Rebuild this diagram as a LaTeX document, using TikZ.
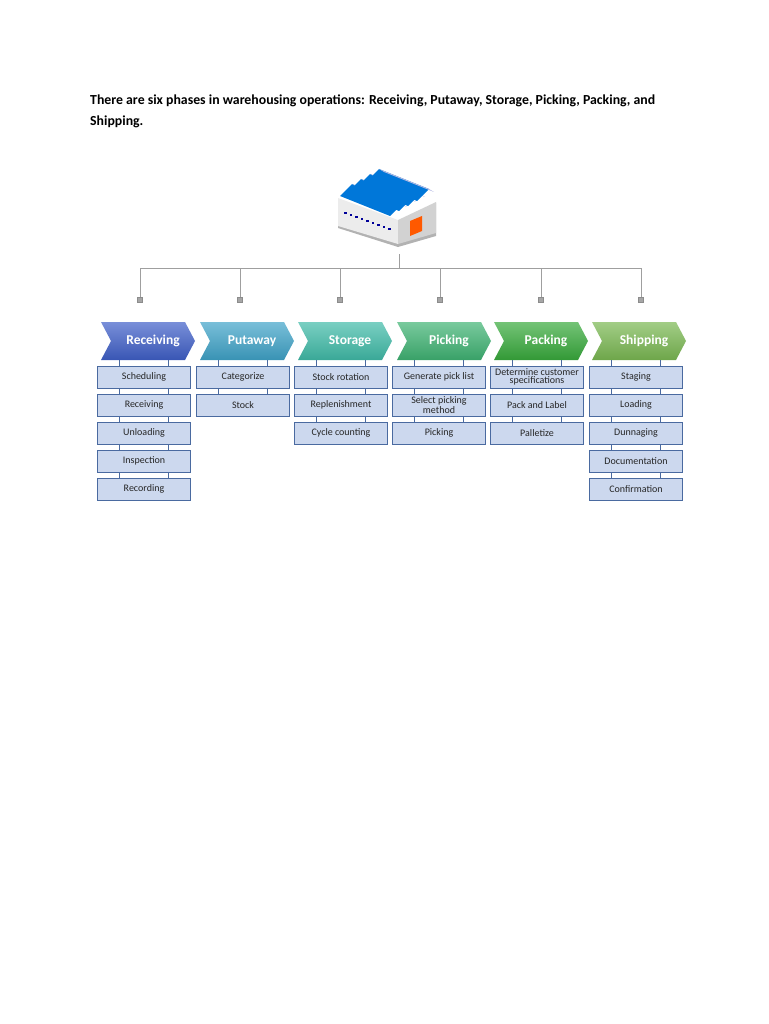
\documentclass[tikz,border=0pt]{standalone}
\usepackage{fontspec}
\setmainfont{Carlito}
\usetikzlibrary{shadings}
\begin{document}
\begin{tikzpicture}[x=1pt,y=-1pt,
  box/.style={draw=boxb,fill=boxf,line width=0.8pt,minimum width=93pt,minimum height=22pt,inner sep=1pt,font=\fontsize{10}{8.5}\selectfont,align=center,text=black!85},
  link/.style={draw=boxb,line width=0.7pt},
  tree/.style={draw=gray!75,line width=0.8pt},
  sq/.style={fill=gray!70,draw=gray!90,minimum size=5pt,inner sep=0pt},
  chevtxt/.style={font=\bfseries\fontsize{13.5}{14}\selectfont,text=white}]
\definecolor{boxf}{HTML}{CCD8EE}
\definecolor{boxb}{HTML}{4A6AA0}
\useasboundingbox (0,0) rectangle (768,1024);
\node[anchor=west,inner sep=0pt,font=\bfseries\fontsize{13.8}{16}\selectfont] (t1) at (90,101) {There are six phases in warehousing operations: Receiving, Putaway, Storage, Picking, Packing, and};
\node[anchor=west,inner sep=0pt,font=\bfseries\fontsize{13.8}{16}\selectfont] (t2) at (90,122) {Shipping.};
% building
\begin{scope}
\fill[gray!60] (338,200) -- (398,222) -- (436,203) -- (436,236) -- (398,247) -- (338,228) -- cycle;
\fill[gray!15] (338,198) -- (398,220) -- (398,244) -- (338,226) -- cycle;
\fill[gray!35] (398,220) -- (436,202) -- (436,233) -- (398,244) -- cycle;
\foreach \i in {0,1,2,3}{
  \fill[blue!45!cyan!85!black] ({340+9*\i},{196-5*\i}) -- ({352+9*\i},{184-5*\i}) -- ({402+9*\i},{204-5*\i}) -- ({390+9*\i},{216-5*\i}) -- cycle;
  \fill[cyan!30!blue!30] ({352+9*\i},{184-5*\i}) -- ({357+9*\i},{187-5*\i}) -- ({407+9*\i},{207-5*\i}) -- ({402+9*\i},{204-5*\i}) -- cycle;
}
\fill[orange!70!red] (410,221) -- (422,216) -- (422,231) -- (410,236) -- cycle;
\foreach \i in {0,...,8}{\fill[blue!60!black] ({344+5.5*\i},{212+2*\i}) rectangle +(2.5,2.5);}
\end{scope}
\coordinate (top) at (399,254);
\coordinate (hub) at (399,268);
\draw[tree] (top) -- (hub);
\draw[tree] (140,268) -- (641,268);
\foreach \x/\n in {140/1,240/2,340/3,440/4,541/5,641/6}{
  \node[sq] (s\n) at (\x,300) {};
  \draw[tree] (\x,268) -- (s\n.north);
}
% chevrons
\foreach \n/\x/\c/\lab in {1/101/3F5FC8/Receiving,2/200/3FA3C8/Putaway,3/298/40BBA8/Storage,4/397/3FB373/Picking,5/494/38AA3C/Packing,6/592/7AB852/Shipping}{
  \definecolor{cc}{HTML}{\c}
  \shade[top color=cc!70!white,bottom color=cc!90!black]
    (\x,322) -- (\x+84,322) -- (\x+94,341) -- (\x+84,360) -- (\x,360) -- (\x+10,341) -- cycle;
  \node[chevtxt] (c\n) at (\x+52,341) {\lab};
}
% boxes
\def\col#1#2#3{%
  \foreach [count=\k] \t in {#3}{
    \node[box] (b#1\k) at (#2,{377+28*(\k-1)}) {\t};
  }}
\col{1}{144}{Scheduling,Receiving,Unloading,Inspection,Recording}
\col{2}{243}{Categorize,Stock}
\col{3}{341}{Stock rotation,Replenishment,Cycle counting}
\col{4}{439}{Generate pick list,Select picking\\method,Picking}
\col{5}{537}{Determine customer\\specifications,Pack and Label,Palletize}
\col{6}{636}{Staging,Loading,Dunnaging,Documentation,Confirmation}
\foreach \n/\m in {1/5,2/2,3/3,4/3,5/3,6/5}{
  \foreach \k in {1,...,\m}{
    \draw[link] ([xshift=-25pt]b\n\k.north) -- ++(0,-6);
    \draw[link] ([xshift=24pt]b\n\k.north) -- ++(0,-6);
  }
}
\end{tikzpicture}
\end{document}
